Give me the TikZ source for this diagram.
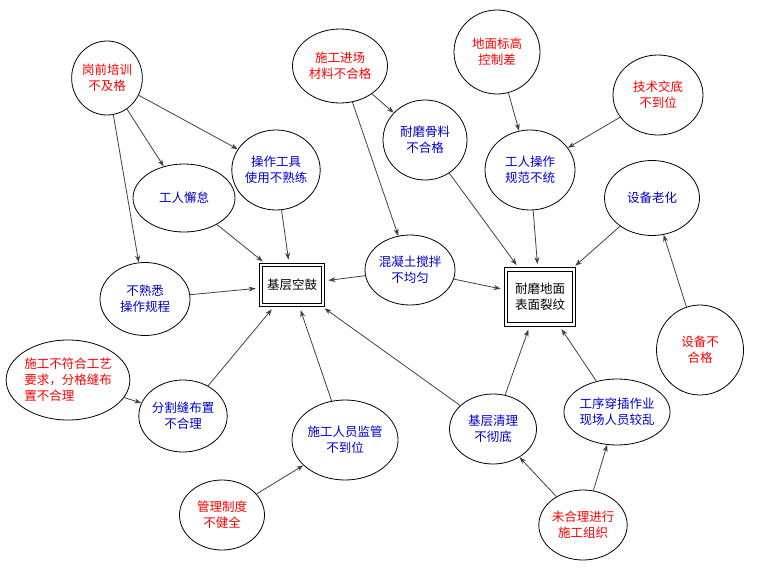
\documentclass[tikz,border=0pt]{standalone}
\usepackage{fontspec}
\setmainfont{Noto Sans CJK SC}
\usetikzlibrary{shapes.geometric,arrows.meta,positioning}

\begin{document}
\begin{tikzpicture}[
    x=1pt, y=-1pt,
    every node/.style={font=\fontsize{12.5}{16}\selectfont, align=center},
    cause/.style={ellipse, draw, thick, inner sep=0pt, text=blue!80!black},
    root cause/.style={cause, text=red},
    effect/.style={draw, thick, double, double distance=2.5pt, inner sep=6pt, minimum height=40pt},
    link/.style={thick, black!75, -{Stealth[length=7pt,width=5pt]}},
    tobox/.style={link, shorten >=5pt}
]
    \useasboundingbox (0,0) rectangle (760,570);
    % effects
    \node [effect, minimum width=62pt] (kong) at (292,285) {基层空鼓};
    \node [effect, minimum width=68pt, minimum height=55pt] (lie) at (540,297) {耐磨地面\\表面裂纹};
    % root causes
    \node [root cause, minimum width=58pt, minimum height=74pt] (pei) at (107,78) {岗前培训\\不及格};
    \node [root cause, minimum width=95pt, minimum height=74pt] (cai) at (340,66) {施工进场\\材料不合格};
    \node [root cause, minimum width=86pt, minimum height=84pt] (biao) at (497,52) {地面标高\\控制差};
    \node [root cause, minimum width=90pt, minimum height=80pt] (jiao) at (658,95) {技术交底\\不到位};
    \node [root cause, minimum width=118pt, minimum height=80pt, align=left] (gy) at (68,380) {施工不符合工艺\\要求，分格缝布\\置不合理};
    \node [root cause, minimum width=87pt, minimum height=90pt] (sbb) at (700,350) {设备不\\合格};
    \node [root cause, minimum width=85pt, minimum height=70pt] (zhi) at (222,515) {管理制度\\不健全};
    \node [root cause, minimum width=85pt, minimum height=70pt] (zu) at (583,525) {未合理进行\\施工组织};
    % causes
    \node [cause, minimum width=84pt, minimum height=80pt] (gu) at (425,140) {耐磨骨料\\不合格};
    \node [cause, minimum width=84pt, minimum height=80pt] (ju) at (276,170) {操作工具\\使用不熟练};
    \node [cause, minimum width=102pt, minimum height=68pt] (xie) at (184,198) {工人懈怠};
    \node [cause, minimum width=90pt, minimum height=80pt] (gui) at (530,170) {工人操作\\规范不统};
    \node [cause, minimum width=95pt, minimum height=75pt] (lao) at (652,198) {设备老化};
    \node [cause, minimum width=90pt, minimum height=70pt] (jb) at (410,270) {混凝土搅拌\\不均匀};
    \node [cause, minimum width=90pt, minimum height=73pt] (shu) at (145,299) {不熟悉\\操作规程};
    \node [cause, minimum width=85pt, minimum height=72pt] (feng) at (183,416) {分割缝布置\\不合理};
    \node [cause, minimum width=90pt, minimum height=80pt] (jian) at (345,440) {施工人员监管\\不到位};
    \node [cause, minimum width=87pt, minimum height=70pt] (qing) at (493,429) {基层清理\\不彻底};
    \node [cause, minimum width=88pt, minimum height=66pt] (xu) at (617,412) {工序穿插作业\\现场人员较乱};
    % links
    \draw [link] (pei) -- (xie);
    \draw [link] (pei) -- (ju);
    \draw [link] (pei) -- (shu);
    \draw [link] (cai) -- (gu);
    \draw [link] (cai) -- (jb);
    \draw [link] (biao) -- (gui);
    \draw [link] (jiao) -- (gui);
    \draw [link] (sbb) -- (lao);
    \draw [link] (gy) -- (feng);
    \draw [link] (zhi) -- (jian);
    \draw [link] (zu) -- (qing);
    \draw [link] (zu) -- (xu);
    \draw [tobox] (xie) -- (kong);
    \draw [tobox] (ju) -- (kong);
    \draw [tobox] (shu) -- (kong);
    \draw [tobox] (jb) -- (kong);
    \draw [tobox] (feng) -- (kong);
    \draw [tobox] (jian) -- (kong);
    \draw [tobox] (qing) -- (kong);
    \draw [tobox] (jb) -- (lie);
    \draw [tobox] (gu) -- (lie);
    \draw [tobox] (gui) -- (lie);
    \draw [tobox] (lao) -- (lie);
    \draw [tobox] (qing) -- (lie);
    \draw [tobox] (xu) -- (lie);
\end{tikzpicture}
\end{document}
